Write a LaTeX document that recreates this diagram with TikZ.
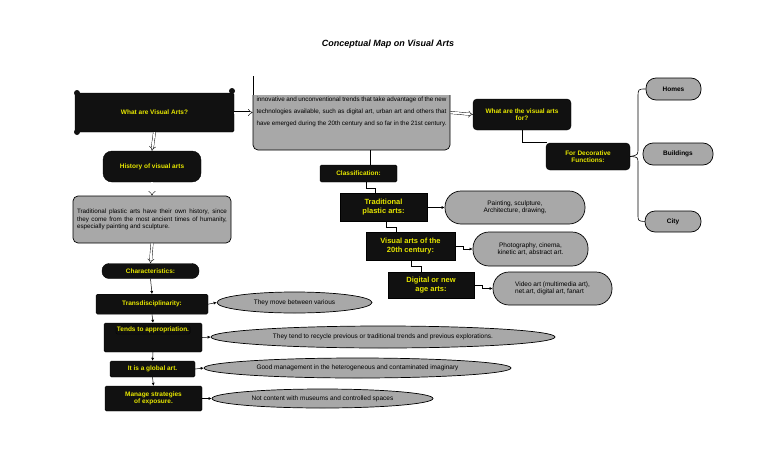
\documentclass[tikz,border=0pt]{standalone}
\usepackage{fontspec}
\setmainfont{Liberation Sans}
\usetikzlibrary{arrows.meta,shapes.geometric}
\definecolor{ylw}{HTML}{E6E600}
\definecolor{gry}{HTML}{A8A8A8}
\definecolor{blk}{HTML}{111111}
\begin{document}
\begin{tikzpicture}[x=1pt,y=-1pt,
 blkbox/.style={draw=black,fill=blk,text=ylw,font=\fontsize{6.5}{7.5}\selectfont\bfseries,align=center,inner sep=1pt,rounded corners=1.5pt},
 pill/.style={blkbox,rounded corners=9pt},
 gbox/.style={draw=black,fill=gry,rounded corners=5pt,line width=0.7pt},
 gell/.style={draw=black,fill=gry,ellipse,inner sep=0pt,font=\fontsize{6.5}{7.5}\selectfont,align=center,line width=0.7pt},
 gpill/.style={draw=black,fill=gry,rounded corners=10pt,inner sep=0pt,font=\fontsize{6.5}{7.5}\selectfont,align=center,line width=0.7pt},
 dbl/.style={double,double distance=2pt,thin,-{Implies}},
 sarr/.style={-{Latex[length=3pt,width=3pt]},line width=0.5pt},
 elb/.style={line width=0.6pt}]
\useasboundingbox (0,0) rectangle (768,466);
\node[font=\fontsize{9}{11}\selectfont\bfseries\itshape] (title) at (388,44) {Conceptual Map on Visual Arts};
% left column
\node[blkbox,minimum width=159,minimum height=39] (wva) at (154.5,112.5) {What are Visual Arts?};
\fill[blk] (77,93) circle (3) (232,91) circle (3) (77,132) circle (3);
\node[pill,minimum width=98,minimum height=31] (hist) at (152,166.5) {History of visual arts};
\node[gbox,minimum width=158,minimum height=47,inner sep=3pt,text width=150,align=justify,font=\fontsize{6.3}{7.8}\selectfont] (trad) at (152,219.5) {Traditional plastic arts have their own history, since they come from the most ancient times of humanity, especially painting and sculpture.};
\node[pill,rounded corners=7pt,minimum width=97,minimum height=15] (char) at (150.5,271) {Characteristics:};
\node[blkbox,minimum width=112,minimum height=20,anchor=north] (tr) at (152,294) {Transdisciplinarity:};
\node[blkbox,minimum width=98,minimum height=29] (ta) at (153,337.5) {};
\node[blkbox] (tat) at (153,330) {Tends to appropriation.};
\node[blkbox,minimum width=85,minimum height=16] (ga) at (152.5,369) {It is a global art.};
\node[blkbox,minimum width=97,minimum height=25] (ms) at (153.5,398.5) {Manage strategies\\of exposure.};
\node[gell,minimum width=155,minimum height=21] (e1) at (294.5,302.5) {They move between various};
\node[gell,minimum width=344,minimum height=22] (e2) at (383,337) {They tend to recycle previous or traditional trends and previous explorations.};
\node[gell,minimum width=307,minimum height=20] (e3) at (357.5,368) {Good management in the heterogeneous and contaminated imaginary};
\node[gell,minimum width=221,minimum height=19] (e4) at (322.5,398.5) {Not content with museums and controlled spaces};
\draw[dbl] (wva.south) -- (hist.north);
\draw[dbl] (hist.south) -- (trad.north);
\draw[dbl] (trad.south) -- (char.north);
\draw[sarr] (char.south) -- (tr.north);
\draw[sarr] (tr.south) -- (ta.north);
\draw[sarr] (ta.south) -- (ga.north);
\draw[sarr] (ga.south) -- (ms.north);
\draw[sarr] (tr.east) -- (e1.west);
\draw[sarr] (ta.east) -- (e2.west);
\draw[sarr] (ga.east) -- (e3.west);
\draw[sarr] (ms.east) -- (e4.west);
% top box
\node[gbox,minimum width=197,minimum height=75] (top) at (351.5,112.5) {};
\fill[white] (252,74) rectangle (451,95);
\draw[line width=0.7pt] (253,76) -- (253,95) (450,95) -- (450,95);
\node[anchor=north,text width=190,align=justify,font=\fontsize{6.3}{12}\selectfont,inner sep=0pt] (toptext) at (351.5,97) {innovative and unconventional trends that take advantage of the new technologies available, such as digital art, urban art and others that have emerged during the 20th century and so far in the 21st century.};
\draw[dbl] (wva.east) -- (top.west);
% right
\node[blkbox,rounded corners=4pt,minimum width=98,minimum height=31] (for) at (522,114.5) {What are the visual arts\\for?};
\draw[dbl] (top.east) -- (for.west);
\node[blkbox,rounded corners=4pt,minimum width=84,minimum height=27] (dec) at (588,156.5) {For Decorative\\Functions:};
\draw[elb] (for.south) -- (522,142) -- (dec.west |- 0,142) -- (dec.north west);
\node[gpill,font=\fontsize{6.5}{7.5}\selectfont\bfseries,minimum width=55,minimum height=22] (homes) at (673.5,89) {Homes};
\node[gpill,font=\fontsize{6.5}{7.5}\selectfont\bfseries,minimum width=70,minimum height=22] (bld) at (678,154) {Buildings};
\node[gpill,font=\fontsize{6.5}{7.5}\selectfont\bfseries,minimum width=56,minimum height=21] (city) at (673,221.5) {City};
\coordinate (bt) at (637,96);
\draw[elb] (homes.west) .. controls (638,89) .. (638,98) -- (638,148) .. controls (638,155) .. (dec.east);
\draw[elb] (dec.east) .. controls (638,157) .. (638,164) -- (638,214) .. controls (638,221) .. (city.west);
% classification
\node[blkbox,minimum width=77,minimum height=17] (cls) at (358.5,173.5) {Classification:};
\draw[elb] (top.south -| cls.north) ++(12,0) -- ++(0,15);
\node[blkbox,font=\fontsize{7.5}{8.5}\selectfont\bfseries,rounded corners=0pt,minimum width=87,minimum height=28] (t1) at (383.5,207) {Traditional\\plastic arts:};
\node[blkbox,font=\fontsize{7.5}{8.5}\selectfont\bfseries,rounded corners=0pt,minimum width=89,minimum height=28] (t2) at (410.5,246) {Visual arts of the\\20th century:};
\node[blkbox,font=\fontsize{7.5}{8.5}\selectfont\bfseries,rounded corners=0pt,minimum width=86,minimum height=26] (t3) at (431,285) {Digital or new\\age arts:};
\draw[elb] (366,182) -- (366,188) -- (375,188) -- (375,193);
\draw[elb] (386,221) -- (386,227) -- (396,227) -- (396,232);
\draw[elb] (411,260) -- (411,266) -- (421,266) -- (421,272);
\node[gpill,rounded corners=16pt,minimum width=140,minimum height=33] (p1) at (515,207.5) {Painting, sculpture,\\Architecture, drawing,};
\node[gpill,rounded corners=16pt,minimum width=115,minimum height=34] (p2) at (530.5,249) {Photography, cinema,\\kinetic art, abstract art.};
\node[gpill,rounded corners=16pt,minimum width=119,minimum height=33,align=left] (p3) at (552.5,288.5) {Video art (multimedia art),\\net.art, digital art, fanart};
\draw[sarr] (t1.east) -- ++(5,0) |- (p1.west);
\draw[sarr] (t2.east) -- ++(8,0) |- (p2.west);
\draw[sarr] (t3.east) -- ++(8,0) |- (p3.west);
\end{tikzpicture}
\end{document}
